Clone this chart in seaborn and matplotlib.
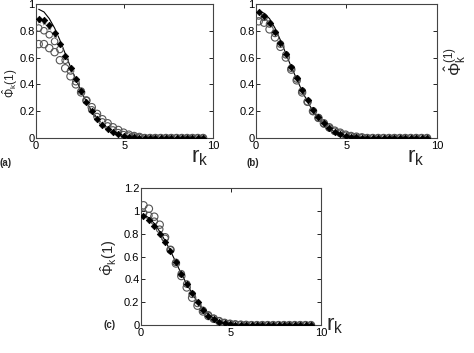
import matplotlib
matplotlib.use("Agg")
import matplotlib.pyplot as plt
import seaborn as sns
import numpy as np

sns.set_theme(style="white")
plt.rcParams['font.family'] = ['Liberation Sans', 'DejaVu Sans']
plt.rcParams['mathtext.fontset'] = 'custom'
plt.rcParams['mathtext.rm'] = 'Liberation Sans'
plt.rcParams['mathtext.it'] = 'Liberation Sans'

# radial grid r_k
r_k = [0.15, 0.45, 0.75, 1.05, 1.35, 1.65, 1.95, 2.25, 2.55, 2.85, 3.15, 3.45, 3.75, 4.05, 4.35, 4.65,
       4.95, 5.25, 5.55, 5.85, 6.15, 6.45, 6.75, 7.05, 7.35, 7.65, 7.95, 8.25, 8.55, 8.85, 9.15, 9.45]
zeros12 = [0.0] * 12

# panel (a)
line_a = [0.96, 0.94, 0.89, 0.82, 0.73, 0.63, 0.53, 0.44, 0.35, 0.27, 0.20, 0.15, 0.10, 0.07, 0.045, 0.03,
          0.018, 0.01, 0.006, 0.003] + zeros12
circ_low_a = [0.70, 0.70, 0.67, 0.64, 0.58, 0.52, 0.46, 0.40, 0.34, 0.28, 0.23, 0.18, 0.14, 0.11, 0.08, 0.06,
              0.04, 0.025, 0.015, 0.008] + zeros12
circ_hi_a = [0.82, 0.80, 0.77, 0.72, 0.66, 0.58, 0.50, 0.42, 0.35, 0.28, 0.21, 0.16, 0.12, 0.09, 0.06, 0.04,
             0.025, 0.015, 0.008, 0.004] + zeros12
star_a = [0.87, 0.86, 0.82, 0.76, 0.69, 0.60, 0.51, 0.43, 0.35, 0.27, 0.20, 0.15, 0.11, 0.075, 0.05, 0.03,
          0.02, 0.01, 0.005, 0.002] + zeros12
fill_a = [0.89, 0.88, 0.84, 0.78, 0.70, 0.61, 0.52, 0.44, 0.35, 0.27, 0.20, 0.14, 0.10, 0.07, 0.045, 0.03,
          0.018, 0.01, 0.005, 0.003] + zeros12

# panel (b)
line_b = [0.95, 0.93, 0.89, 0.82, 0.73, 0.63, 0.53, 0.44, 0.35, 0.27, 0.20, 0.15, 0.10, 0.07, 0.045, 0.03,
          0.018, 0.01, 0.006, 0.003] + zeros12
circ_low_b = [0.87, 0.86, 0.81, 0.75, 0.68, 0.60, 0.51, 0.43, 0.34, 0.27, 0.20, 0.15, 0.11, 0.08, 0.055, 0.04,
              0.025, 0.015, 0.01, 0.005] + zeros12
circ_hi_b = [0.91, 0.90, 0.85, 0.78, 0.70, 0.62, 0.52, 0.44, 0.35, 0.27, 0.20, 0.15, 0.105, 0.075, 0.05, 0.035,
             0.02, 0.012, 0.007, 0.003] + zeros12
fill_b = [0.94, 0.91, 0.86, 0.79, 0.71, 0.63, 0.53, 0.45, 0.36, 0.285, 0.21, 0.155, 0.11, 0.074, 0.048, 0.03,
          0.018, 0.01, 0.005, 0.003] + zeros12

# panel (c)
line_c = [0.97, 0.94, 0.89, 0.82, 0.74, 0.65, 0.55, 0.45, 0.36, 0.28, 0.20, 0.14, 0.09, 0.06, 0.035, 0.02,
          0.012, 0.006, 0.003, 0.001] + zeros12
circ_hi_c = [1.05, 1.02, 0.95, 0.88, 0.77, 0.66, 0.54, 0.43, 0.33, 0.24, 0.17, 0.12, 0.08, 0.055, 0.035, 0.02,
             0.012, 0.007, 0.004, 0.002] + zeros12
circ_low_c = [0.98, 0.96, 0.91, 0.84, 0.76, 0.66, 0.55, 0.45, 0.36, 0.27, 0.19, 0.13, 0.09, 0.06, 0.035, 0.02,
              0.012, 0.006, 0.003, 0.001] + zeros12
fill_c = [0.96, 0.92, 0.87, 0.80, 0.73, 0.65, 0.55, 0.45, 0.36, 0.28, 0.20, 0.13, 0.08, 0.05, 0.03, 0.018,
          0.01, 0.005, 0.003, 0.001] + zeros12

x_ticks = [0, 5, 10]
y_ticks_ab = [0, 0.2, 0.4, 0.6, 0.8, 1]
y_ticks_c = [0, 0.2, 0.4, 0.6, 0.8, 1, 1.2]

fig = plt.figure(figsize=(4.74, 3.53), dpi=100)
ax_a = fig.add_axes([0.076, 0.609, 0.373, 0.380])
ax_b = fig.add_axes([0.540, 0.609, 0.382, 0.380])
ax_c = fig.add_axes([0.297, 0.079, 0.380, 0.388])


def open_circ(ax, y, ms=26, col='#555555'):
    sns.scatterplot(x=r_k, y=y, ax=ax, marker='o', s=ms, facecolor='none', edgecolor=col,
                    linewidth=0.8, zorder=3)


def filled(ax, y):
    sns.scatterplot(x=r_k, y=y, ax=ax, marker='D', s=11, color='black', edgecolor='black',
                    linewidth=0.5, zorder=4)


def style(ax, yt, ymax):
    ax.set_xlim(0, 10)
    ax.set_ylim(0, ymax)
    ax.set_xticks(x_ticks)
    ax.set_xticklabels(['0', '5', '10'])
    ax.set_yticks(yt)
    ax.set_yticklabels(['0' if v == 0 else ('1' if v == 1 else f'{v:g}') for v in yt])
    ax.tick_params(direction='in', length=3, width=0.6, labelsize=8, pad=1,
                   top=True, right=True, bottom=True, left=True, colors='black')
    ax.tick_params(axis='x', pad=2)
    for s in ax.spines.values():
        s.set_color('#444444')
        s.set_linewidth(0.8)
    ax.set_xlabel('')
    ax.set_ylabel('')


# (a)
sns.lineplot(x=r_k, y=line_a, ax=ax_a, color='black', linewidth=0.8, zorder=2)
open_circ(ax_a, circ_low_a, ms=28)
open_circ(ax_a, circ_hi_a, ms=22)
sns.scatterplot(x=r_k, y=star_a, ax=ax_a, marker='*', s=20, color='#333333', linewidth=0.3, zorder=4)
filled(ax_a, fill_a)
style(ax_a, y_ticks_ab, 1)

# (b)
sns.lineplot(x=r_k, y=line_b, ax=ax_b, color='black', linewidth=0.8, zorder=2)
open_circ(ax_b, circ_low_b, ms=28)
open_circ(ax_b, circ_hi_b, ms=22)
filled(ax_b, fill_b)
style(ax_b, y_ticks_ab, 1)

# (c)
sns.lineplot(x=r_k, y=line_c, ax=ax_c, color='black', linewidth=0.8, zorder=2)
open_circ(ax_c, circ_hi_c, ms=28)
open_circ(ax_c, circ_low_c, ms=22)
filled(ax_c, fill_c)
style(ax_c, y_ticks_c, 1.2)

ylab = r'$\hat{\Phi}_k\mathregular{(1)}$'
ylab_b = r'$\hat{\Phi}_k^{\mathregular{(1)}}$'
xlab = r'$\mathregular{r_k}$'

fig.text(0.5 / 474, 1 - 83 / 353, ylab, rotation=90, fontsize=8.5, ha='left', va='center')
fig.text(456 / 474, 1 - 62 / 353, ylab_b, rotation=90, fontsize=12, ha='center', va='center')
fig.text(109 / 474, 1 - 258 / 353, ylab, rotation=90, fontsize=10.5, ha='center', va='center')

fig.text(200 / 474, 1 - 157 / 353, xlab, fontsize=16, ha='center', va='center')
fig.text(416 / 474, 1 - 157 / 353, xlab, fontsize=16, ha='center', va='center')
fig.text(335 / 474, 1 - 325 / 353, xlab, fontsize=16, ha='center', va='center')

fig.text(0 / 474, 1 - 163 / 353, '(a)', fontsize=7, fontweight='bold', ha='left', va='center')
fig.text(247 / 474, 1 - 163 / 353, '(b)', fontsize=7, fontweight='bold', ha='left', va='center')
fig.text(103 / 474, 1 - 325 / 353, '(c)', fontsize=7, fontweight='bold', ha='left', va='center')

fig.savefig('out.png', dpi=100)
